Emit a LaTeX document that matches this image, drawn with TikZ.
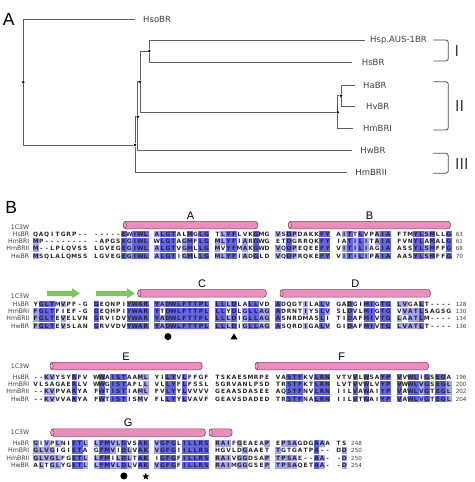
\documentclass[tikz,border=0pt]{standalone}
\usepackage{fontspec}
\setmainfont{Liberation Sans}
\newfontfamily\djv{DejaVu Sans}
\usepackage{tikz}
\usetikzlibrary{shapes.geometric, arrows.meta, positioning, calc}

\definecolor{treegray}{RGB}{95,95,95}
\definecolor{dkres}{RGB}{100,100,235}
\definecolor{ltres}{RGB}{165,165,245}
\definecolor{helixpink}{RGB}{238,140,190}
\definecolor{helixline}{RGB}{120,70,95}
\definecolor{strandgreen}{RGB}{125,200,90}

\tikzstyle{leafname} = [font=\djv\fontsize{8.5}{9}\selectfont, text=black!75, inner sep=0pt]
\tikzstyle{branch} = [draw=treegray, line width=0.7pt]
\tikzstyle{treedot} = [circle, fill=black, inner sep=0pt, minimum size=2.8pt]
\tikzstyle{clade} = [draw=black!70, line width=0.8pt, rounded corners=2.5pt]
\tikzstyle{cladename} = [font=\fontsize{16}{16}\selectfont, text=black!75, inner sep=0pt, anchor=west]
\tikzstyle{panel} = [font=\fontsize{17.5}{18}\selectfont, inner sep=0pt]
\tikzstyle{seqname} = [font=\djv\fontsize{6.2}{7}\selectfont, text=black!75, inner sep=0pt, anchor=east]
\tikzstyle{seqnum} = [font=\djv\fontsize{5.6}{6}\selectfont, text=black!75, inner sep=0pt, anchor=west]
\tikzstyle{res} = [font=\djv\bfseries\fontsize{5.9}{6}\selectfont, text=black!85, inner sep=0pt, anchor=base]
\tikzstyle{helix} = [rectangle, rounded corners=2.5pt, draw=helixline, fill=helixpink, line width=0.6pt, minimum height=7.5pt, inner sep=0pt, anchor=north west]
\tikzstyle{helixcap} = [draw=helixline, fill=helixpink!80!white, line width=0.5pt]
\tikzstyle{helixname} = [font=\fontsize{11}{11}\selectfont, inner sep=0pt]
\tikzstyle{strand} = [draw=strandgreen, line width=5.2pt, -{Triangle[length=8pt, width=9.5pt]}]
\tikzstyle{dotmark} = [circle, fill=black, inner sep=0pt, minimum size=7pt]
\tikzstyle{tripmark} = [regular polygon, regular polygon sides=3, fill=black, inner sep=0pt, minimum size=8pt]
\tikzstyle{starmark} = [star, star points=5, star point ratio=2.4, fill=black, inner sep=0pt, minimum size=7.5pt]

% one residue: * before a letter = dark, + = light
\newcount\rescol
\def\resshade{0}
\def\putres#1{%
  \pgfmathsetmacro\resx{\grpx+5.5*\the\rescol}%
  \pgfmathtruncatemacro\rescc{\rescol+10*\grpno-9}%
  \ifnum\resshade=2 \fill[dkres] (\resx,\resy-3.3) rectangle ++(5.5,6.6);\fi
  \ifnum\resshade=1 \fill[ltres] (\resx,\resy-3.3) rectangle ++(5.5,6.6);\fi
  \node[res] (r\resblk-\resrow-\rescc) at (\resx+2.75,\resy+2.15) {#1};
  \xdef\resend{\resx}%
  \global\advance\rescol by 1\relax}
\def\resparse#1{%
  \ifx#1\relax\let\resnext\relax
  \else
    \ifx#1*\def\resshade{2}\else
    \ifx#1+\def\resshade{1}\else
      \putres{#1}\def\resshade{0}\fi\fi
    \let\resnext\resparse
  \fi\resnext}
% block, row, y, name, groups, count
\newcommand\seqrow[6]{%
  \node[seqname] (n#1-#2) at (29.5,#3) {#4};
  \def\resblk{#1}\def\resrow{#2}\def\resy{#3}%
  \foreach \grp [count=\grpno] in {#5} {%
    \pgfmathsetmacro\grpx{33+60.6*(\grpno-1)}%
    \global\rescol=0\relax
    \expandafter\resparse\grp\relax
  }%
  \node[seqnum] (c#1-#2) at (\resend+9.5,#3) {#6};
}

\begin{document}
\begin{tikzpicture}[x=1pt, y=-1pt]
\useasboundingbox (0,0) rectangle (474,482);

% ---- A: tree
\node[panel] (pA) at (8.8,19.2) {A};

\node[treedot] (root) at (23.3,82.2) {};
\node[treedot] (N1) at (135,145) {};
\node[treedot] (N2) at (137.7,116.7) {};
\node[treedot] (N3) at (140,81.7) {};
\node[treedot] (N4) at (149.3,51) {};
\node[treedot] (N5) at (337.7,112.3) {};
\node[treedot] (N6) at (341,95.7) {};

\coordinate (tHsoBR) at (135,19.3);
\coordinate (tHsp) at (365,40);
\coordinate (tHsBR) at (351.7,62.3);
\coordinate (tHaBR) at (355,85);
\coordinate (tHvBR) at (355,106.7);
\coordinate (tHmBRI) at (353.3,128.3);
\coordinate (tHwBR) at (351.7,150.7);
\coordinate (tHmBRII) at (346.7,172.7);

\node[leafname, right=8pt of tHsoBR] (HsoBR) {HsoBR};
\node[leafname, right=5pt of tHsp] (Hsp) {Hsp.AUS-1BR};
\node[leafname, right=10pt of tHsBR] (HsBR) {HsBR};
\node[leafname, right=8pt of tHaBR] (HaBR) {HaBR};
\node[leafname, right=11pt of tHvBR] (HvBR) {HvBR};
\node[leafname, right=9.5pt of tHmBRI] (HmBRI) {HmBRI};
\node[leafname, right=8.5pt of tHwBR] (HwBR) {HwBR};
\node[leafname, right=8.5pt of tHmBRII] (HmBRII) {HmBRII};

\draw[branch] (root) |- (tHsoBR);
\draw[branch] (root) |- (N1);
\draw[branch] (N1) |- (N2);
\draw[branch] (N1) |- (tHmBRII);
\draw[branch] (N2) |- (N3);
\draw[branch] (N2) |- (tHwBR);
\draw[branch] (N3) |- (N4);
\draw[branch] (N3) |- (N5);
\draw[branch] (N4) |- (tHsp);
\draw[branch] (N4) |- (tHsBR);
\draw[branch] (N5) |- (N6);
\draw[branch] (N5) |- (tHmBRI);
\draw[branch] (N6) |- (tHaBR);
\draw[branch] (N6) |- (tHvBR);

\draw[clade] (433.3,40) -- (448.3,40) -- (448.3,61) -- (433.3,61);
\draw[clade] (433.3,81.7) -- (448.3,81.7) -- (448.3,130) -- (433.3,130);
\draw[clade] (433.3,153.3) -- (448.3,153.3) -- (448.3,173.3) -- (433.3,173.3);
\node[cladename] (cI) at (454.5,50.5) {I};
\node[cladename] (cII) at (455,106) {II};
\node[cladename] (cIII) at (455,163.5) {III};

% ---- B: alignment
\node[panel] (pB) at (11.3,207.5) {B};

% block 1
\node[helix, minimum width=134pt] (hA) at (123.3,221) {};
\node[helix, minimum width=161.7pt] (hB) at (288.3,221) {};
\draw[helixcap] ([xshift=1.6pt]hA.west) ellipse (1.6pt and 3.3pt);
\draw[helixcap] ([xshift=1.6pt]hB.west) ellipse (1.6pt and 3.3pt);
\node[helixname, above=1.5pt of hA] (lA) {A};
\node[helixname, above=1.5pt of hB] (lB) {B};
\node[seqname] (pdb1) at (29.5,227.5) {1C3W};
\seqrow{1}{1}{234}{HsBR}{QAQITGRP--,-----*EW*I*W*L,+A*L*G*TAL*MG*L*G,T+L*Y*FLVK*GMG,+VS*D+PDAKK*F*Y,A+I*TT*LVP+A*I*A,FTM*Y*L+S*MLL*G}{63}
\seqrow{1}{2}{241.35}{HmBRI}{+MP--------,-APGS*E+G*I*W*L,W*L*G*TA+G*MF*L*G,+M+L*Y*FI+AR*GWG,ET*DGRRQK*F*Y,IA*T+I*L+IT+A*I*A,FVN*Y*LA*MAL*G}{61}
\seqrow{1}{3}{248.7}{HmBRII}{+M--LPLQVSS,LGVEG*E+G*I*W*L,+A*L*G*TV+G*ML*L*G,+MV*Y*FM+AK*GWD,+VQ*D+PEQEE*F*Y,V+I*T+I*L+IAG*I*A,ASS*Y*L+S*MFF*G}{68}
\seqrow{1}{4}{256.05}{HwBR}{+MSQLALQMSS,LGVEG*E+G*I*W*L,+A*L*G*TI+G*ML*L*G,+M+L*Y*FI+AD*GLD,+VQ*D+PRQKE*F*Y,V+I*T+I*L+IP+A*I*A,AAS*Y*L+S*MFF*G}{70}

% block 2
\coordinate (e1s) at (46.7,293.3);
\coordinate (e1e) at (80,293.3);
\coordinate (e2s) at (96,293.3);
\coordinate (e2e) at (135,293.3);
\draw[strand] (e1s) -- (e1e);
\draw[strand] (e2s) -- (e2e);
\node[helix, minimum width=128.3pt] (hC) at (137.7,289.3) {};
\node[helix, minimum width=150pt] (hD) at (280,289.3) {};
\draw[helixcap] ([xshift=1.6pt]hC.west) ellipse (1.6pt and 3.3pt);
\draw[helixcap] ([xshift=1.6pt]hD.west) ellipse (1.6pt and 3.3pt);
\node[helixname, above=1.5pt of hC] (lC) {C};
\node[helixname, above=1.5pt of hD] (lD) {D};
\node[seqname] (pdb2) at (29.5,296) {1C3W};
\seqrow{2}{1}{304}{HsBR}{Y*G*L*TM+VPF-G,*GEQNPI*Y*W*A*R,*Y+A*D*W*L*F*T*T*P*L,*L*L+L*DLA*L*LVD,*ADQGT+ILA*L+V,GA*DGI*M*IG*T*G,+L+VGA*LT----}{128}
\seqrow{2}{2}{311.35}{HmBRI}{+F*G*L*TFIEF-G,*GEQHPI*Y*W*A*R,*YT*D*W*L*F*T*T*P*L,*L*LY*DL+G*L*L+A+G,*ADRNT+IYS*L+V,SL*DVL*M*IG*T*G,V+V+A+T*LSAGSG}{130}
\seqrow{2}{3}{318.7}{HmBRII}{+F*G*L*TE+VELVN,*GRVIDV*Y*W*A*R,*Y+A*D*W*L*F*T*T*P*L,*L*L+L*DI+G*L*L+A+G,*ASNRDMAS*LI,TI*DAF*M*IV*T*G,+LA+A+T*LM----}{134}
\seqrow{2}{4}{326.05}{HwBR}{+F*G*L*TE+VSLAN,*GRVVDV*Y*W*A*R,*Y+A*D*W*L*F*T*T*P*L,*L*L+L*DI+G*L*L+A+G,*ASQRD+IGA*L+V,GI*DAF*M*IV*T*G,+L+V+A+T*LT----}{136}
\node[dotmark, below=4.5pt of r2-4-23] (mD85) {};
\node[tripmark, below=4.5pt of r2-4-34] (mD96) {};

% block 3
\node[helix, minimum width=151.7pt] (hE) at (50,362) {};
\node[helix, minimum width=173pt] (hF) at (255,362) {};
\draw[helixcap] ([xshift=1.6pt]hE.west) ellipse (1.6pt and 3.3pt);
\draw[helixcap] ([xshift=1.6pt]hF.west) ellipse (1.6pt and 3.3pt);
\node[helixname, above=1.5pt of hE] (lE) {E};
\node[helixname, above=1.5pt of hF] (lF) {F};
\node[seqname] (pdb3) at (29.5,366.5) {1C3W};
\seqrow{3}{1}{377}{HsBR}{--+K+VYSY*RFV,W*WA*I*S*TAA+M+L,YI*L*YV*LFFGF,TSKAESMRPE,VA*S*T*FKV*L*R*N,VTV*VL*WSA*Y*P,*VV*W*LI*GS*E*GA}{196}
\seqrow{3}{2}{384.35}{HmBRI}{VLSAGAE*RLV,W*WG*I*S*TAFL+L,VL*L*YF*LFSSL,SGRVANLPSD,TR*S*T*FKT*L*R*N,LVT*VV*WLV*Y*P,*VW*W*L+V*GS*E*G+L}{200}
\seqrow{3}{3}{391.7}{HmBRII}{--+K+VPVA*RYA,F*WT*I*S*TIA+M+L,FV*L*YY*LVVVV,GEAASDASEE,AQ*S*T*FNV*L*R*N,IIL*VA*WAI*Y*P,*VA*W*L+V*GT*E*G+L}{202}
\seqrow{3}{4}{399.05}{HwBR}{--+K+VVVA*RYA,F*WT*I*S*TIS+MV,FL*L*YY*LVAVF,GEAVSDADED,TR*S*T*FNA*L*R*N,IIL*VT*WAI*Y*P,*VA*W*L+V*GT*E*G+L}{204}

% block 4
\node[helix, minimum width=154.3pt] (hG) at (50.7,428.5) {};
\node[helix, minimum width=22.7pt] (hG2) at (209,428.5) {};
\draw[helixcap] ([xshift=1.6pt]hG.west) ellipse (1.6pt and 3.3pt);
\draw[helixcap] ([xshift=1.6pt]hG2.west) ellipse (1.6pt and 3.3pt);
\node[helixname, above=1.5pt of hG] (lG) {G};
\node[seqname] (pdb4) at (29.5,432.5) {1C3W};
\seqrow{4}{1}{443.3}{HsBR}{+GI+VP+LNI*E*T+L,+L*F*M+V+L*DVS*A*K,+V*G*F*GL*I*L*L*R*S,+R+A+IF+GEAEA+P,E+P+S+AGDG*A+AA,TS}{248}
\seqrow{4}{2}{450.65}{HmBRI}{+G+L+V+GIGI*E*TA,G*F*M+VI*D+LV*A*K,+V*G*F*GI*I*L*L*R*S,HGVLD+GAAET,+TGTGATP*A--,D+D}{250}
\seqrow{4}{3}{458}{HmBRII}{+G+L+V+G+LFG*E*T+L,+L*F*MI+L*D+LT*A*K,I*G*F*GF*I*L*L*R*S,+R+A+IV+G+GDSA+P,+T+P+S+AE--*A+A-,-+D}{250}
\seqrow{4}{4}{465.35}{HwBR}{A+LT+G+LYG*E*T+L,+L*F*M+V+L*D+LV*A*K,+V*G*F*GF*I*L*L*R*S,+R+A+IM+G+GGSE+P,+T+P+S+AQET*A+A-,-+D}{254}
\node[dotmark, below=4.5pt of r4-4-16] (mD212) {};
\node[starmark, below=4.5pt of r4-4-20] (mK216) {};
\end{tikzpicture}
\end{document}
